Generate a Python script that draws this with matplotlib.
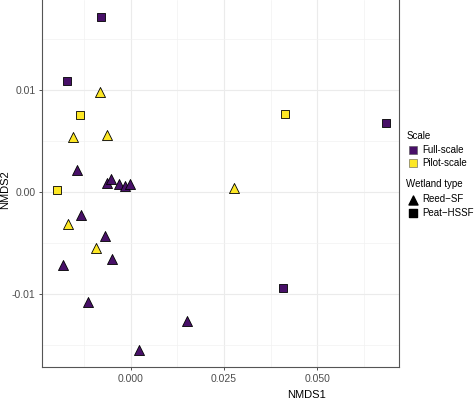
import matplotlib.pyplot as plt
import numpy as np

plt.rcParams['font.family'] = ['Liberation Sans', 'DejaVu Sans']

# NMDS scores
full_sq_x = [-0.0080, -0.0170, 0.0684, 0.0409]
full_sq_y = [0.0171, 0.0109, 0.0067, -0.0094]

pilot_sq_x = [-0.0135, -0.0197, 0.0413]
pilot_sq_y = [0.0075, 0.0002, 0.0076]

pilot_tri_x = [-0.0082, -0.0154, -0.0064, 0.0277, -0.0167, -0.0094]
pilot_tri_y = [0.0098, 0.0054, 0.0056, 0.0004, -0.0032, -0.0055]

full_tri_x = [-0.0144, -0.0064, -0.0053, -0.0031, -0.0015, -0.0002,
              -0.0134, -0.0068, -0.0051, -0.0182, -0.0114, 0.0150, 0.0023]
full_tri_y = [0.0021, 0.0009, 0.0013, 0.0008, 0.0006, 0.0008,
              -0.0023, -0.0043, -0.0066, -0.0072, -0.0108, -0.0127, -0.0155]

x_ticks = [0.000, 0.025, 0.050]
x_tick_labels = ['0.000', '0.025', '0.050']
y_ticks = [-0.01, 0.00, 0.01]
y_tick_labels = ['-0.01', '0.00', '0.01']

purple = '#481068'
yellow = '#FDE725'

fig = plt.figure(figsize=(4.74, 3.99), dpi=100)
ax = fig.add_axes([42 / 474, 31.7 / 399, 357 / 474, 367.3 / 399])

kw = dict(edgecolor='black', linewidths=0.6, zorder=3)
ax.scatter(full_tri_x, full_tri_y, marker='^', s=52, color=purple, **kw)
ax.scatter(pilot_tri_x, pilot_tri_y, marker='^', s=52, color=yellow, **kw)
ax.scatter(full_sq_x, full_sq_y, marker='s', s=36, color=purple, **kw)
ax.scatter(pilot_sq_x, pilot_sq_y, marker='s', s=36, color=yellow, **kw)

ax.set_xlim(-0.02376, 0.0719)
ax.set_ylim(-0.01719, 0.01879)
ax.set_xticks(x_ticks)
ax.set_xticklabels(x_tick_labels)
ax.set_yticks(y_ticks)
ax.set_yticklabels(y_tick_labels)
ax.set_xticks([-0.0125, 0.0125, 0.0375, 0.0625], minor=True)
ax.set_yticks([-0.015, -0.005, 0.005, 0.015], minor=True)
ax.tick_params(which='major', length=2.5, width=0.6, color='#333333',
               labelsize=7.5, labelcolor='#4D4D4D', pad=2)
ax.tick_params(which='minor', length=0)
ax.grid(True, which='major', color='#EBEBEB', linewidth=0.8)
ax.grid(True, which='minor', color='#F2F2F2', linewidth=0.5)
ax.set_axisbelow(True)
for s in ax.spines.values():
    s.set_color('#555555')
    s.set_linewidth(0.8)
ax.spines['top'].set_visible(False)

fig.text(306 / 474, 1 - 395 / 399, 'NMDS1', ha='center', va='center', fontsize=8)
fig.text(5 / 474, 1 - 190 / 399, 'NMDS2', ha='center', va='center', fontsize=8, rotation=90)

# legend drawn in pixel space
lg = fig.add_axes([0, 0, 1, 1])
lg.set_xlim(0, 474)
lg.set_ylim(399, 0)
lg.axis('off')
fs = 7.0
lg.text(406.5, 136, 'Scale', fontsize=fs, va='center')
lg.scatter([412.7], [149.7], marker='s', s=30, color=purple, edgecolor='#555555', linewidths=0.4)
lg.scatter([412.7], [163.2], marker='s', s=30, color=yellow, edgecolor='#555555', linewidths=0.4)
lg.text(422.5, 149.7, 'Full-scale', fontsize=fs, va='center')
lg.text(422.5, 163.2, 'Pilot-scale', fontsize=fs, va='center')
lg.text(406.5, 184.3, 'Wetland type', fontsize=fs, va='center')
lg.scatter([412.7], [199.5], marker='^', s=42, color='black')
lg.scatter([412.7], [213], marker='s', s=30, color='black')
lg.text(422.5, 199, 'Reed\u2212SF', fontsize=fs, va='center')
lg.text(422.5, 212.7, 'Peat\u2212HSSF', fontsize=fs, va='center')

fig.savefig('out.png', dpi=100)
plt.close(fig)
